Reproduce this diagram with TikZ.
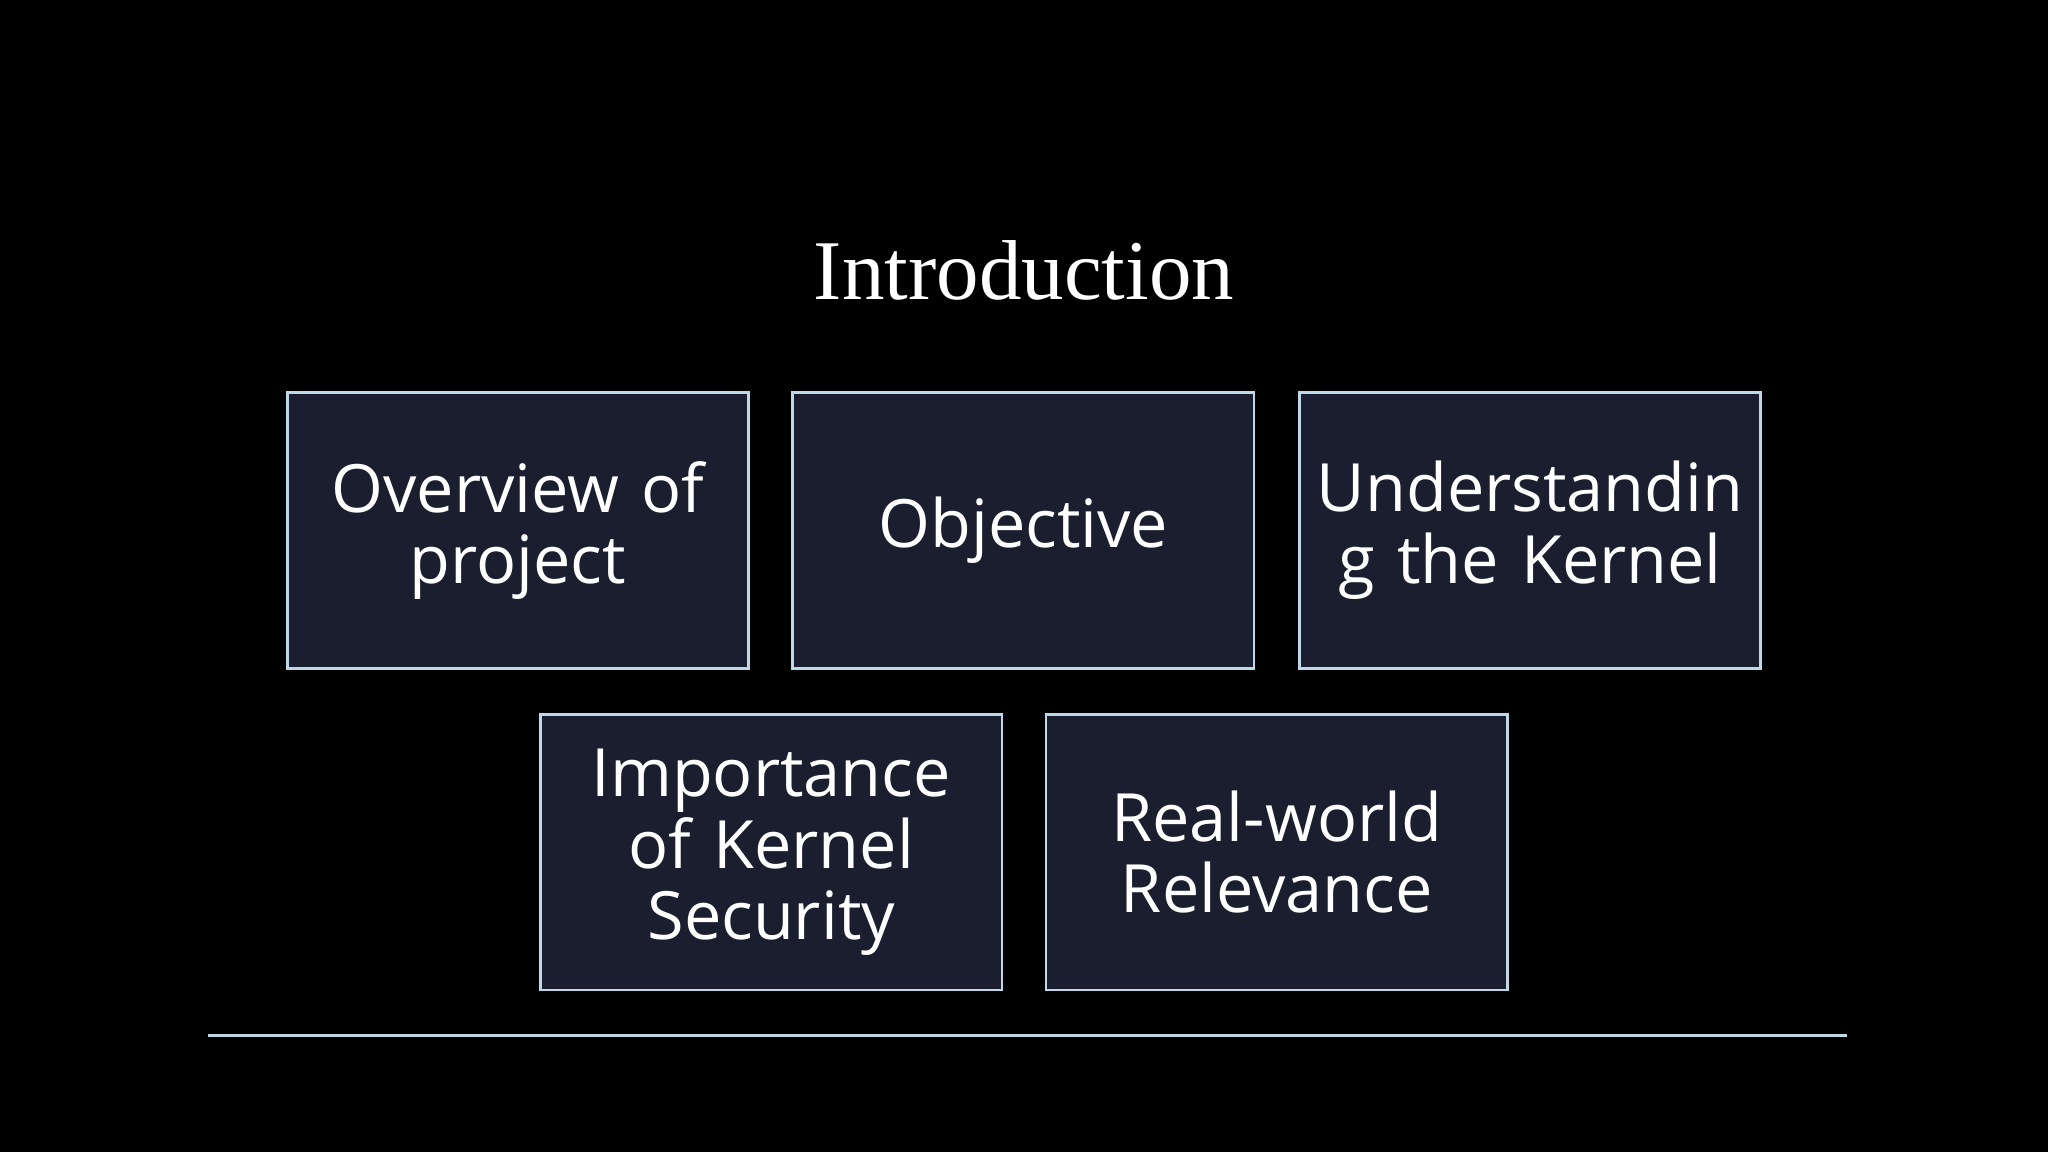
\documentclass[tikz,border=0pt]{standalone}
\usepackage{fontspec}
\setmainfont{Open Sans}
\newfontfamily\titlefont{Liberation Serif}
\definecolor{boxfill}{HTML}{1A1E2E}
\definecolor{boxline}{HTML}{BFD8E8}
\begin{document}
\begin{tikzpicture}[x=0.01cm,y=-0.01cm,
  card/.style={draw=boxline,line width=0.6pt,fill=boxfill,minimum width=3.53cm,minimum height=2.11cm,text width=3.3cm,align=center,text=white,font=\fontsize{14.5}{15.5}\selectfont,inner sep=0pt}]
\fill[black] (0,0) rectangle (1568,882);
\useasboundingbox (0,0) rectangle (1568,882);
\node[text=white,font=\titlefont\fontsize{18.5}{20}\selectfont] (title) at (784,207) {Introduction};
\node[card] (a) at (396.5,406) {Overview of\\project};
\node[card] (b) at (783.5,406) {Objective};
\node[card] (c) at (1171.5,406) {Understandin\\g the Kernel};
\node[card] (d) at (590.5,652.5) {Importance\\of Kernel\\Security};
\node[card] (e) at (977.5,652.5) {Real-world\\Relevance};
\coordinate (l1) at (159,793);
\coordinate (l2) at (1414,793);
\draw[boxline,line width=0.6pt] (l1) -- (l2);
\end{tikzpicture}
\end{document}
